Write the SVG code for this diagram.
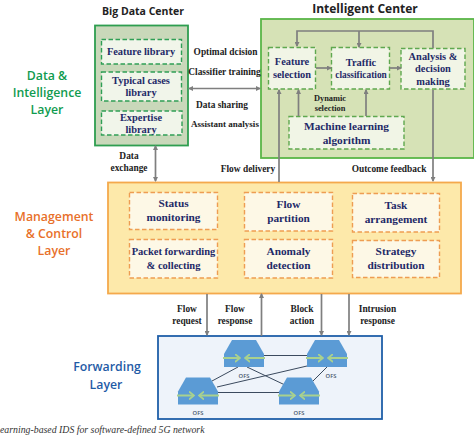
<svg xmlns="http://www.w3.org/2000/svg" width="474" height="435" viewBox="0 0 474 435">
<style>
text{font-family:"Liberation Serif","Times New Roman",serif;font-weight:bold;text-anchor:middle}
.title{font-family:"Open Sans","Liberation Sans",sans-serif;font-size:10.5px;fill:#222}
.layer{font-family:"Open Sans","Liberation Sans",sans-serif;font-size:12.300px;font-weight:600}
.lbl{font-size:9.400px;fill:#222}
.n{font-size:10.400px;fill:#1f2a68}
.m{font-size:11.300px;fill:#1f2a68}
.in{stroke-width:1.4;stroke-dasharray:4.5 2.5}
.g{fill:#f1f5ea;stroke:#2f9e55}
.g2{fill:#f1f5e6;stroke:#5fa84f}
.o{fill:#fdf8e6;stroke:#ee9d52}
.c{fill:none;stroke:#7f7f7f;stroke-width:1.7}
.sw{fill:#5b9bd5}
.ar{fill:none;stroke:#a9d18e;stroke-width:2}
.ln{stroke:#3b4a5e;stroke-width:1}
.ofs{font-family:"Open Sans","Liberation Sans",sans-serif;font-size:5.800px;fill:#44546a;font-weight:600}
</style>
<defs>
<marker id="a" markerWidth="5" markerHeight="5" refX="4" refY="2.5" orient="auto-start-reverse" markerUnits="userSpaceOnUse"><path d="M0 0L5 2.5L0 5Z" fill="#7f7f7f"/></marker>
<marker id="h" markerWidth="6" markerHeight="9" refX="5" refY="4.5" orient="auto" markerUnits="userSpaceOnUse"><path d="M0 .5L5 4.500L0 8.500" fill="none" stroke="#a9d18e" stroke-width="1.800"/></marker>
<g id="swi"><path class="sw" d="M8 0H32L40 14V27H0V14Z"/><path class="ar" d="M-1 18H16" marker-end="url(#h)"/><path class="ar" d="M41 18H21" marker-end="url(#h)"/></g>
</defs>
<rect width="474" height="435" fill="#fff"/>

<text class="title" x="143" y="14.500">Big Data Center</text>
<text class="title" x="365" y="13" style="font-size:12px">Intelligent Center</text>
<g id="layer-labels">
<text class="layer" x="47" y="80" fill="#0f9b4f">Data &amp;</text>
<text class="layer" x="47" y="97" fill="#0f9b4f">Intelligence</text>
<text class="layer" x="47" y="114" fill="#0f9b4f">Layer</text>
<text class="layer" x="54" y="221" fill="#e8702a">Management</text>
<text class="layer" x="54" y="238" fill="#e8702a">&amp; Control</text>
<text class="layer" x="54" y="255" fill="#e8702a">Layer</text>
<text class="layer" x="107" y="371" fill="#1f5ba6">Forwarding</text>
<text class="layer" x="106" y="389" fill="#1f5ba6">Layer</text>
</g>

<g id="big-data-center">
<rect x="95" y="25.500" width="93" height="120" fill="#c9d8ba" stroke="#2e9e50" stroke-width="1.800"/>
<g id="feature-library"><rect class="in g" x="101.500" y="39.500" width="80" height="24.500"/><text class="n" x="141" y="54.500">Feature library</text></g>
<g id="typical-cases"><rect class="in g" x="101.500" y="72" width="80" height="29"/><text class="n" x="141" y="84">Typical cases</text><text class="n" x="141" y="96">library</text></g>
<g id="expertise"><rect class="in g" x="101.500" y="111" width="80.500" height="24"/><text class="n" x="141" y="120.500">Expertise</text><text class="n" x="141" y="133">library</text></g>
</g>

<g id="intelligent-center">
<rect x="261" y="19" width="213" height="139" fill="#d6e2b6" stroke="#5ab648" stroke-width="1.800"/>
<g id="feature-selection"><rect class="in g2" x="268.500" y="47.500" width="47" height="41.500"/><text class="n" x="292" y="65">Feature</text><text class="n" x="292" y="78">selection</text></g>
<g id="traffic-classification"><rect class="in g2" x="331.500" y="47.500" width="58" height="41.500"/><text class="n" x="361" y="66">Traffic</text><text class="n" x="361" y="77.500" style="font-size:9.400px">classification</text></g>
<g id="analysis"><rect class="in g2" x="401" y="48.500" width="64" height="40.500"/><text class="n" x="433" y="59.500">Analysis &amp;</text><text class="n" x="433" y="72">decision</text><text class="n" x="433" y="85">making</text></g>
<g id="machine-learning"><rect class="in g2" x="289" y="116.500" width="115" height="32.500"/><text class="n" x="346.500" y="129.500" style="font-size:11.300px">Machine learning</text><text class="n" x="346.500" y="143.500" style="font-size:11.300px">algorithm</text></g>
</g>

<g id="management-control">
<rect x="108" y="182.500" width="353" height="111" fill="#fde9aa" stroke="#f4a94c" stroke-width="1.800"/>
<g id="status"><rect class="in o" x="129.500" y="192.500" width="88" height="37"/><text class="m" x="173.500" y="207">Status</text><text class="m" x="173.500" y="221">monitoring</text></g>
<g id="packet"><rect class="in o" x="129.500" y="239.500" width="88" height="38.500"/><text class="m" x="173.500" y="255" style="font-size:10.500px">Packet forwarding</text><text class="m" x="173.500" y="268.500" style="font-size:10.500px">&amp; collecting</text></g>
<g id="flow-partition"><rect class="in o" x="244.500" y="192.500" width="88" height="38.500"/><text class="m" x="288.500" y="208">Flow</text><text class="m" x="288.500" y="222">partition</text></g>
<g id="anomaly"><rect class="in o" x="244.500" y="239.500" width="88" height="38.500"/><text class="m" x="288.500" y="255">Anomaly</text><text class="m" x="288.500" y="269">detection</text></g>
<g id="task"><rect class="in o" x="352.500" y="193.500" width="87" height="38.500"/><text class="m" x="396" y="209">Task</text><text class="m" x="396" y="223">arrangement</text></g>
<g id="strategy"><rect class="in o" x="352.500" y="240.500" width="87" height="37"/><text class="m" x="396" y="255">Strategy</text><text class="m" x="396" y="269">distribution</text></g>
</g>

<g id="forwarding">
<rect x="158" y="336" width="224" height="83" fill="#eef3fa" stroke="#1f5fa8" stroke-width="1.800"/>
<g id="links">
<path class="ln" d="M264 355.500H307M212 381L238 367M247 367L285 385M217 387L307 366M313 381L327 367M217 392.500H279"/>
</g>
<use id="ofs1" href="#swi" x="224" y="340"/>
<use id="ofs2" href="#swi" x="307" y="340"/>
<use id="ofs3" href="#swi" x="178" y="377.500"/>
<use id="ofs4" href="#swi" x="279" y="377.500"/>
<text class="ofs" x="244" y="378">OFS</text>
<text class="ofs" x="331" y="378">OFS</text>
<text class="ofs" x="198" y="415">OFS</text>
<text class="ofs" x="299" y="415">OFS</text>
</g>

<g id="connectors">
<path class="c" marker-end="url(#a)" d="M433 48V31H297V46"/>
<path class="c" marker-end="url(#a)" d="M359 31V47"/>
<path class="c" marker-end="url(#a)" d="M316 68H331"/>
<path class="c" marker-end="url(#a)" d="M390 68H401"/>
<path class="c" marker-end="url(#a)" d="M298.500 116V90"/>
<path class="c" marker-end="url(#a)" d="M366 116V90"/>
<path class="c" marker-end="url(#a)" d="M433 90V181"/>
<path class="c" marker-end="url(#a)" d="M279 182V90"/>
<path class="c" marker-start="url(#a)" marker-end="url(#a)" d="M189 88.500H260"/>
<path class="c" marker-start="url(#a)" marker-end="url(#a)" d="M155.500 146V181"/>
<path class="c" marker-end="url(#a)" d="M207 294V335"/>
<path class="c" marker-end="url(#a)" d="M261.500 336V294"/>
<path class="c" marker-end="url(#a)" d="M321.500 294V335"/>
<path class="c" marker-end="url(#a)" d="M349 294V335"/>
</g>

<g id="labels">
<text class="lbl" x="225.500" y="54.500">Optimal dcision</text>
<text class="lbl" x="224.500" y="75">Classifier training</text>
<text class="lbl" x="222" y="108">Data sharing</text>
<text class="lbl" x="225" y="127" style="font-size:9px">Assistant analysis</text>
<text class="lbl" x="129" y="159">Data</text>
<text class="lbl" x="129" y="170.500">exchange</text>
<text class="lbl" x="248" y="172">Flow delivery</text>
<text class="lbl" x="389" y="172">Outcome feedback</text>
<text class="lbl" x="330" y="100.500" style="font-size:8.400px">Dynamic</text>
<text class="lbl" x="330" y="111" style="font-size:8.400px">selection</text>
<text class="lbl" x="187" y="312">Flow</text>
<text class="lbl" x="187" y="324">request</text>
<text class="lbl" x="235" y="312">Flow</text>
<text class="lbl" x="235" y="324">response</text>
<text class="lbl" x="302" y="312">Block</text>
<text class="lbl" x="302" y="324">action</text>
<text class="lbl" x="377.500" y="312">Intrusion</text>
<text class="lbl" x="377.500" y="324">response</text>
</g>
<text x="0" y="432.500" style="text-anchor:start;font-weight:normal;font-style:italic;font-size:9.800px;fill:#333">earning-based IDS for software-defined 5G network</text>
</svg>
